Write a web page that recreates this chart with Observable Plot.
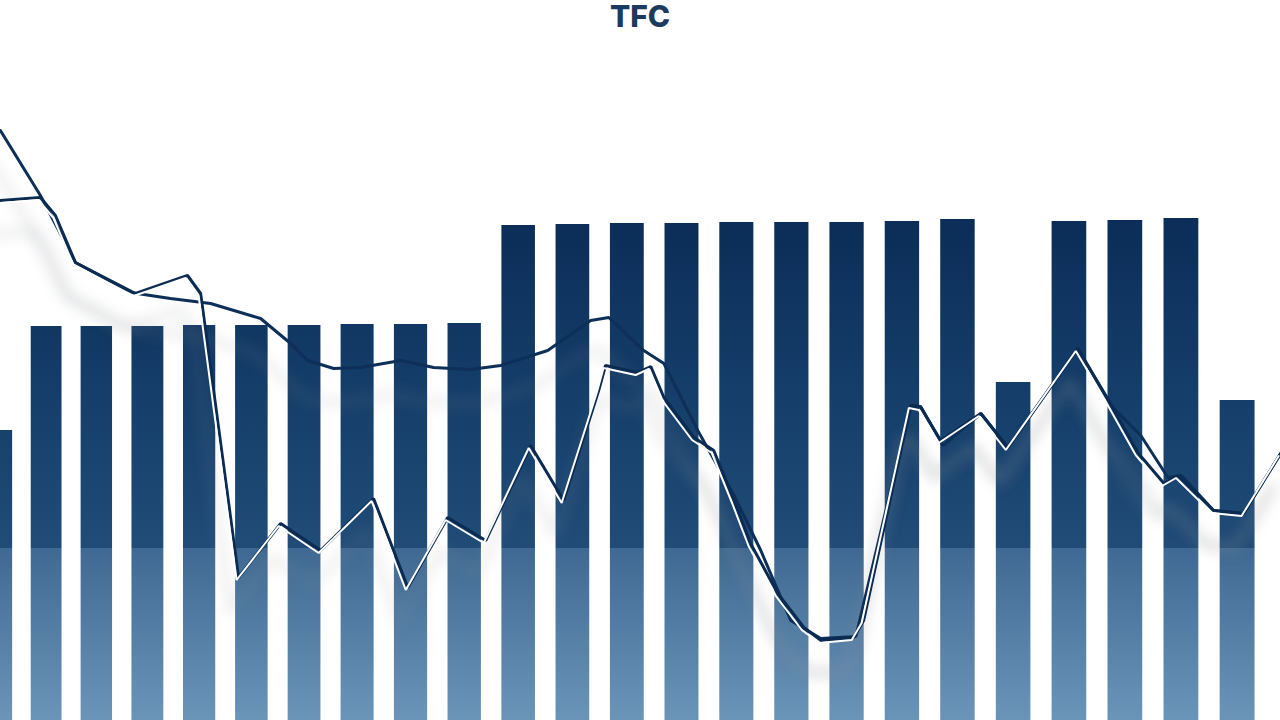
<!DOCTYPE html>
<html>
<head>
<meta charset="utf-8">
<script src="https://cdn.jsdelivr.net/npm/d3@7"></script>
<script src="https://cdn.jsdelivr.net/npm/@observablehq/plot@0.6"></script>
<style>
  html, body { margin: 0; padding: 0; background: #fff; overflow: hidden; width: 1280px; height: 720px; }
  #title { position: absolute; left: 0; top: 3px; width: 1280px; text-align: center;
           font-family: Inter, "Open Sans", sans-serif; font-weight: 800; font-size: 30px;
           line-height: 26px; color: #1b3a5e; z-index: 2; }
  #chart { position: absolute; left: 0; top: 0; }
  g[aria-description="shadow"] { filter: blur(7px); }
</style>
</head>
<body>
<div id="title">TFC</div>
<div id="chart"></div>
<script>
// Bar categories (period index) and values
const barPeriods = [1,2,3,4,5,6,7,8,9,10,11,12,13,14,15,16,17,18,19,20,21,22,23,24];
const barValues  = [58,78.8,78.8,78.8,79,79,79,79.2,79.2,79.4,99,99.2,99.4,99.4,99.6,99.6,99.6,99.8,100.2,67.6,99.8,100,100.4,64];

// Series A (dark line): position along the period axis and value
const seriesAPos = [1.058,1.876,2.577,3.661,4.439,5.211,6.167,6.738,7.06,7.55,8.058,8.807,9.423,10.11,10.668,11.536,12.327,12.66,13.30,13.67,14.288,14.95,15.436,15.98,16.525,17.159,18.152,18.33,18.73,19.413,19.896,21.15,21.74,22.276,22.76,23.0,23.573,24.105,24.765];
const seriesAVal = [118,105,91.6,85.6,84.4,83.4,80.4,75.4,72,70.4,70.6,72,70.6,70.2,71,74,80,80.6,74,71.4,58,45,34,20,16.4,16.8,63,62.8,55,61.4,54.6,74.4,63,57,48.6,49,42,41.4,53.4];

// Series B (highlighted line)
const seriesBPos = [1.058,1.876,2.178,2.577,3.76,4.768,5.02,5.747,6.548,7.305,8.30,8.94,9.683,10.39,11.223,11.83,12.474,12.6,13.19,13.43,13.67,14.22,14.58,14.95,15.25,15.745,16.217,16.53,17.12,17.30,18.152,18.33,18.69,19.413,19.896,21.15,21.65,22.22,22.69,22.94,23.573,24.105,24.765];
const seriesBVal = [104,104.6,101,91.6,85.4,89,85.4,28.6,39.4,34,44.4,26.6,40.6,36,55,44,66,71,69.6,70.8,64.6,56.6,54,44,35.4,25.4,18.6,16,16.6,20,63,62.6,56,61.4,54.6,74.4,65,53.6,47.4,49,42,41.4,53.4];

const bars = barPeriods.map((p, i) => ({p, v: barValues[i]}));
const lineA = seriesAPos.map((p, i) => ({p, v: seriesAVal[i]}));
const lineB = seriesBPos.map((p, i) => ({p, v: seriesBVal[i]}));

const halfWidth = 0.31;

const svg = Plot.plot({
  width: 1280,
  height: 720,
  margin: 0,
  style: {background: "transparent", overflow: "visible"},
  x: {type: "pow", exponent: 1.05, domain: [1, 24], range: [-2.85, 1237.1], axis: null},
  y: {domain: [0, 144], range: [720, 0], axis: null},
  marks: [
    Plot.rect(bars, {x1: d => d.p - halfWidth, x2: d => d.p + halfWidth, y1: 0, y2: "v", fill: "url(#barGrad)"}),
    Plot.line(lineA, {x: "p", y: "v", stroke: "#8a8f96", strokeWidth: 7, strokeOpacity: 0.2, dy: 34, dx: -8, ariaDescription: "shadow"}),
    Plot.line(lineB, {x: "p", y: "v", stroke: "#8a8f96", strokeWidth: 7, strokeOpacity: 0.2, dy: 34, dx: -8, ariaDescription: "shadow"}),
    Plot.line(lineA, {x: "p", y: "v", stroke: "#0d2f58", strokeWidth: 3, strokeLinejoin: "miter"}),
    Plot.line(lineB, {x: "p", y: "v", stroke: "#0b2b52", strokeWidth: 3, strokeLinejoin: "miter"}),
    Plot.line(lineB, {x: "p", y: "v", stroke: "#ffffff", strokeWidth: 2, dx: -2, dy: 2.5, strokeLinejoin: "miter"})
  ]
});

const defs = d3.select(svg).insert("defs", ":first-child");
const g = defs.append("linearGradient")
  .attr("id", "barGrad")
  .attr("gradientUnits", "userSpaceOnUse")
  .attr("x1", 0).attr("y1", 0).attr("x2", 0).attr("y2", 720);
[[0, "#072a52"], [0.30, "#0b2d57"], [0.55, "#153e6a"], [0.761, "#214c78"],
 [0.761, "#3f6992"], [1, "#6b94b9"]].forEach(([o, c]) =>
  g.append("stop").attr("offset", o).attr("stop-color", c));

document.getElementById("chart").appendChild(svg);
</script>
</body>
</html>
